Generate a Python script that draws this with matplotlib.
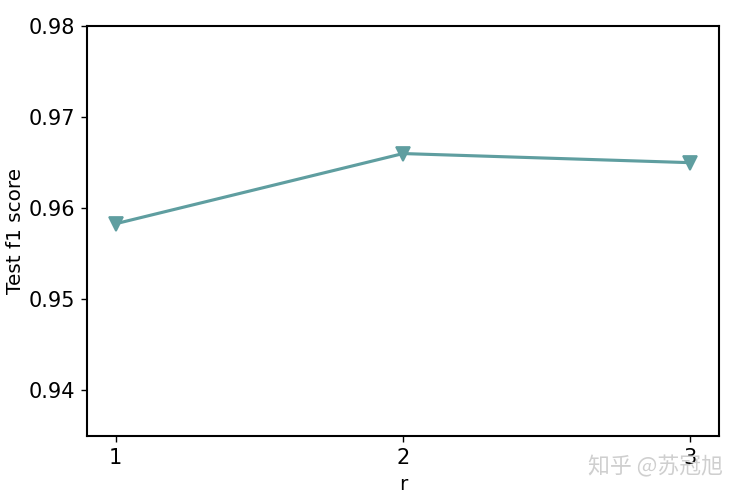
import matplotlib
matplotlib.use("Agg")
import matplotlib.pyplot as plt

r = [1, 2, 3]
f1 = [0.9583, 0.9660, 0.9650]
yticks = [0.94, 0.95, 0.96, 0.97, 0.98]

plt.rcParams['font.size'] = 12

# saved at 125 dpi so the default sizes scale up like the reference
fig = plt.figure(figsize=(742 / 125, 500 / 125), dpi=125)
ax = fig.add_axes([0.1173, 0.128, 0.8517, 0.82])
ax.plot(r, f1, color='cadetblue', marker='v', markersize=8, linewidth=1.8)
ax.set_xlim(0.9, 3.1)
ax.set_ylim(0.935, 0.98)
ax.set_xticks(r)
ax.set_yticks(yticks)
ax.set_xlabel('r', fontsize=11.5)
ax.set_ylabel('Test f1 score', fontsize=11.5, labelpad=2)
for s in ax.spines.values():
    s.set_linewidth(1.2)

# watermark
fig.text(0.975, 0.066, '知乎 @苏冠旭', ha='right', va='center', fontsize=12.6,
         color='#cfcfcf', family=['Noto Sans CJK SC', 'DejaVu Sans'])

fig.savefig('out.png', dpi=125)
